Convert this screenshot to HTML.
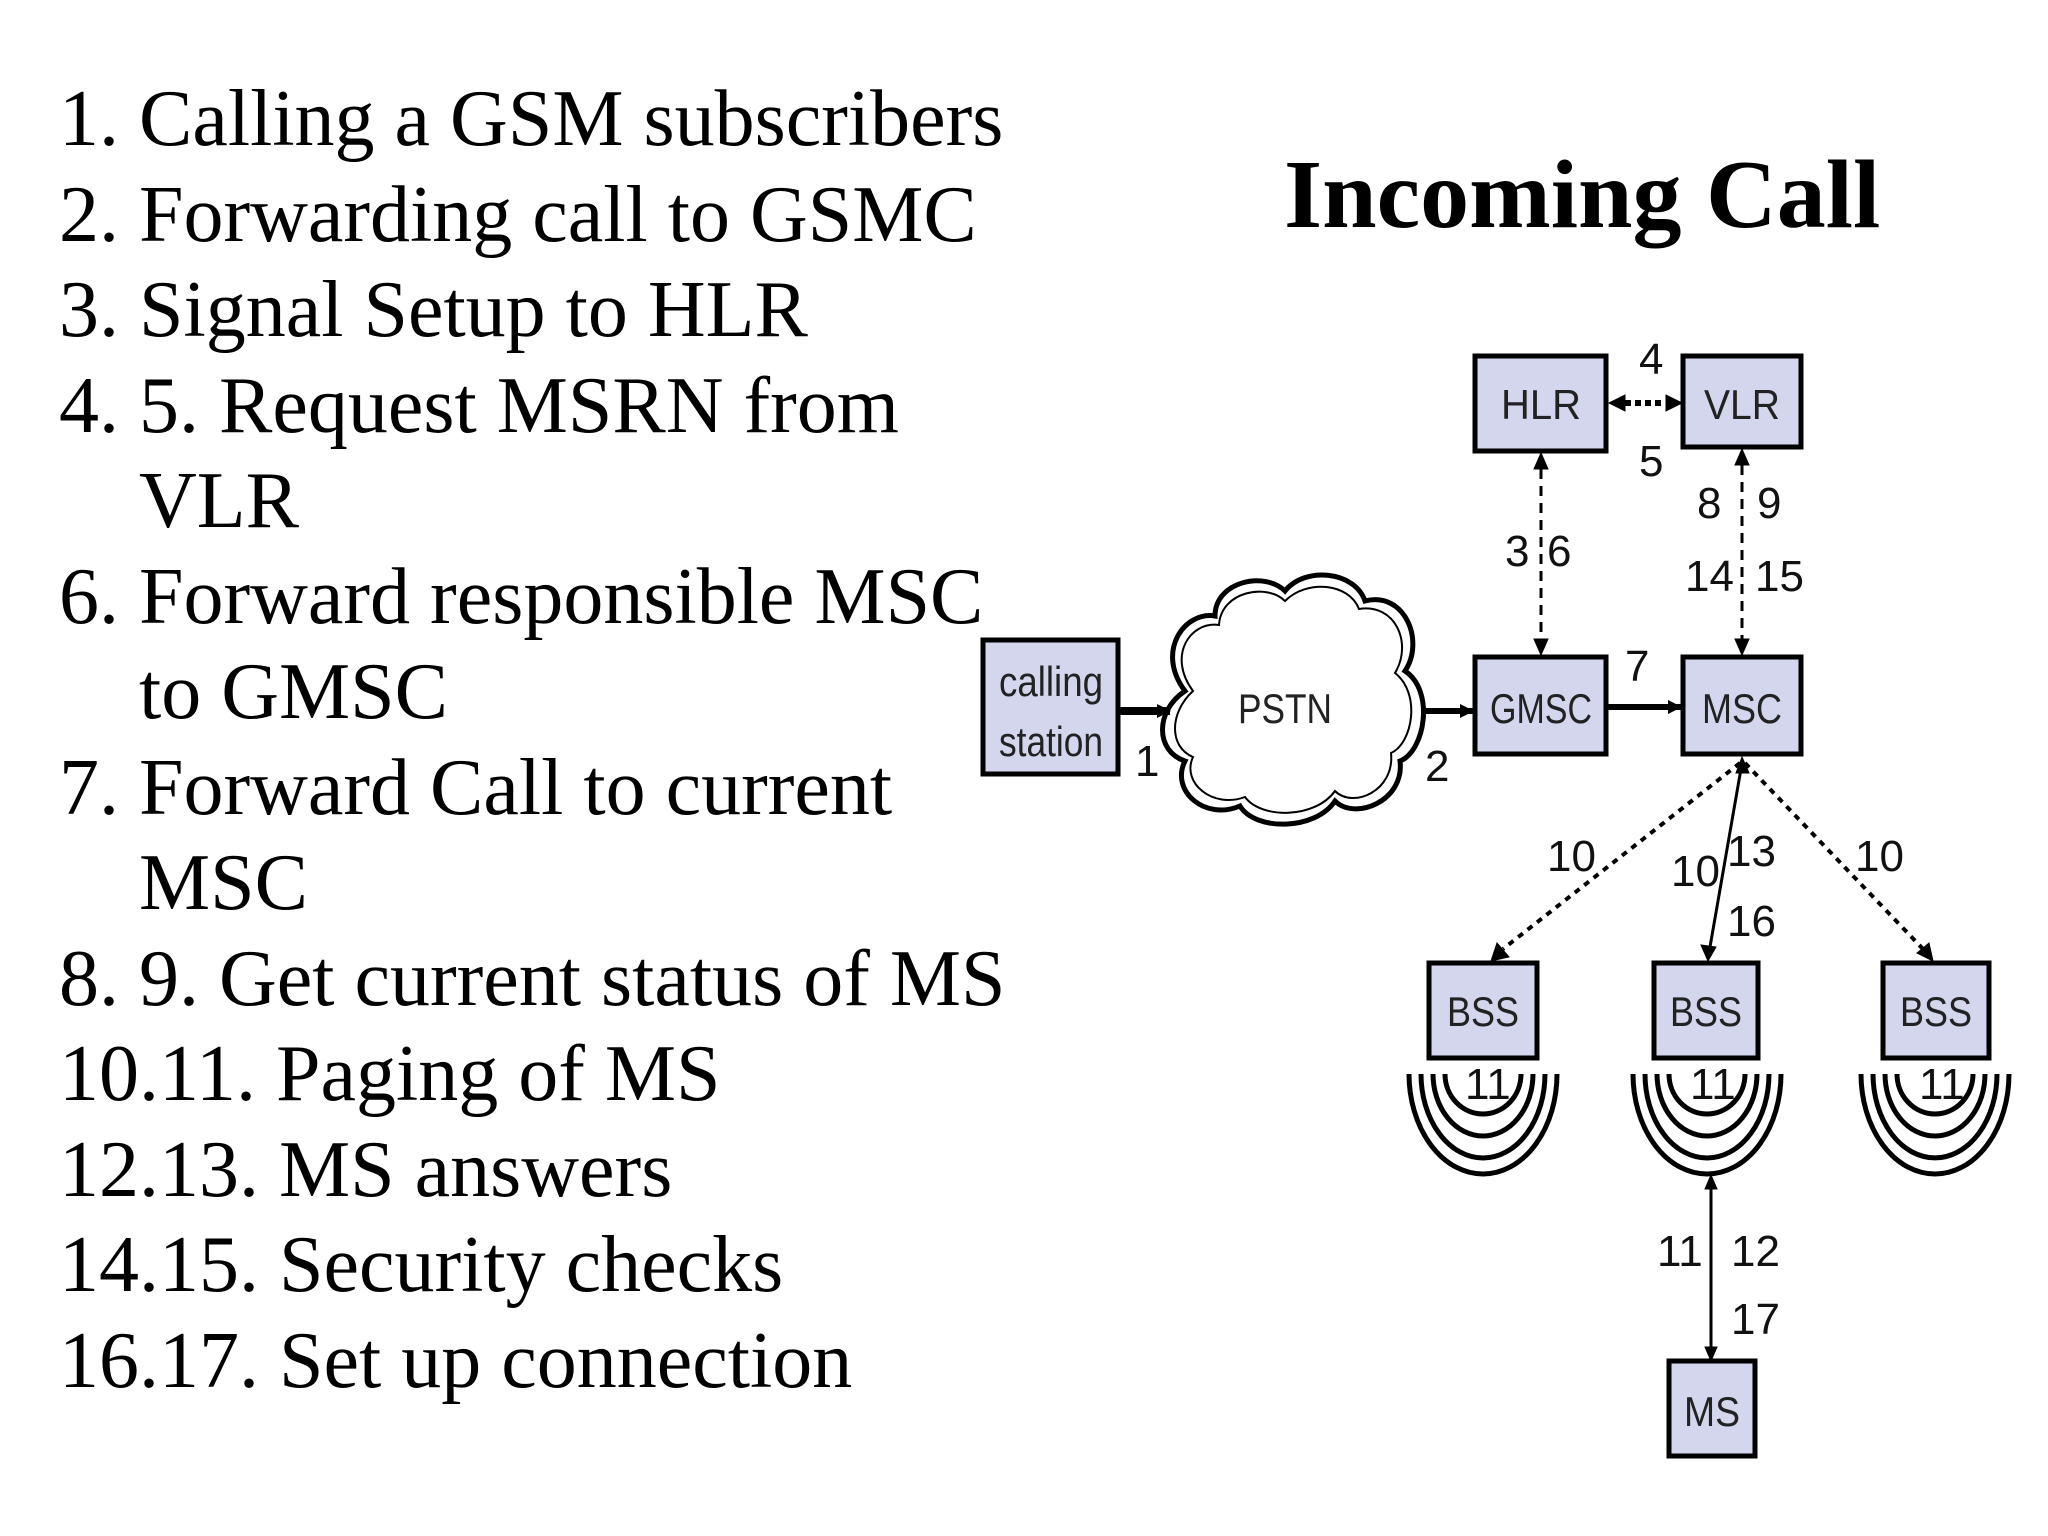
<!DOCTYPE html>
<html><head><meta charset="utf-8"><style>
html,body{margin:0;padding:0;background:#fff}
svg{display:block}
</style></head><body>
<svg width="2048" height="1536" viewBox="0 0 2048 1536" xmlns="http://www.w3.org/2000/svg">
<defs>
<marker id="b" markerWidth="14" markerHeight="14" refX="13" refY="7" orient="auto" markerUnits="userSpaceOnUse"><path d="M0,0 L14,7 L0,14 z" fill="#000"/></marker>
</defs>
<g font-family="Liberation Serif, serif" font-size="80" fill="#000">
<text x="59" y="145">1.</text><text x="139" y="145">Calling a GSM subscribers</text>
<text x="59" y="241">2.</text><text x="139" y="241">Forwarding call to GSMC</text>
<text x="59" y="336">3.</text><text x="139" y="336">Signal Setup to HLR</text>
<text x="59" y="432">4.</text><text x="139" y="432">5. Request MSRN from</text>
<text x="139" y="527">VLR</text>
<text x="59" y="623">6.</text><text x="139" y="623">Forward responsible MSC</text>
<text x="139" y="718">to GMSC</text>
<text x="59" y="814">7.</text><text x="139" y="814">Forward Call to current</text>
<text x="139" y="909">MSC</text>
<text x="59" y="1005">8.</text><text x="139" y="1005">9. Get current status of MS</text>
<text x="59" y="1100">10.11. Paging of MS</text>
<text x="59" y="1196">12.13. MS answers</text>
<text x="59" y="1291">14.15. Security checks</text>
<text x="59" y="1387">16.17. Set up connection</text>
</g>
<text x="1284" y="227" font-family="Liberation Serif, serif" font-weight="bold" font-size="98">Incoming Call</text>
<g transform="translate(-15,-9)">
<path d="M1200,700 C1170,660 1200,620 1230,625 C1230,590 1280,580 1300,600 C1320,575 1370,580 1380,610 C1420,600 1440,650 1420,680 C1450,700 1440,760 1415,770 C1420,810 1370,830 1350,810 C1330,840 1270,840 1255,815 C1220,830 1185,800 1200,770 C1170,760 1170,720 1200,700 Z" fill="#fff" stroke="#000" stroke-width="5"/>
<path d="M1208,700 C1182,665 1205,630 1234,634 C1236,600 1282,592 1300,610 C1322,588 1364,592 1374,618 C1410,612 1428,652 1410,682 C1436,702 1428,752 1406,762 C1410,800 1368,818 1350,800 C1330,828 1276,828 1260,806 C1228,818 1196,792 1208,766 C1184,756 1184,722 1208,700 Z" fill="none" stroke="#000" stroke-width="2"/>
<g fill="#d4d6ee" stroke="#000" stroke-width="5">
<rect x="1490" y="365" width="131" height="95"/>
<rect x="1698" y="365" width="118" height="91"/>
<rect x="998" y="649" width="135" height="134"/>
<rect x="1490" y="666" width="131" height="97"/>
<rect x="1698" y="666" width="118" height="97"/>
<rect x="1444" y="972" width="108" height="95"/>
<rect x="1669" y="972" width="104" height="95"/>
<rect x="1898" y="972" width="106" height="95"/>
<rect x="1684" y="1370" width="86" height="95"/>
</g>
<g font-family="Liberation Sans, sans-serif" font-size="42" fill="#222" text-anchor="middle">
<text x="1556" y="428" textLength="80" lengthAdjust="spacingAndGlyphs">HLR</text>
<text x="1757" y="428" textLength="76" lengthAdjust="spacingAndGlyphs">VLR</text>
<text x="1066" y="705" textLength="104" lengthAdjust="spacingAndGlyphs">calling</text>
<text x="1066" y="765" textLength="104" lengthAdjust="spacingAndGlyphs">station</text>
<text x="1556" y="732" textLength="102" lengthAdjust="spacingAndGlyphs">GMSC</text>
<text x="1757" y="732" textLength="80" lengthAdjust="spacingAndGlyphs">MSC</text>
<text x="1498" y="1035" textLength="72" lengthAdjust="spacingAndGlyphs">BSS</text>
<text x="1721" y="1035" textLength="72" lengthAdjust="spacingAndGlyphs">BSS</text>
<text x="1951" y="1035" textLength="72" lengthAdjust="spacingAndGlyphs">BSS</text>
<text x="1727" y="1435" textLength="56" lengthAdjust="spacingAndGlyphs">MS</text>
<text x="1300" y="732" textLength="94" lengthAdjust="spacingAndGlyphs">PSTN</text>
</g>
<g stroke="#000" fill="none">
<line x1="1135" y1="720" x2="1185" y2="720" stroke-width="8" marker-end="url(#b)"/>
<line x1="1440" y1="720" x2="1488" y2="720" stroke-width="6" marker-end="url(#b)"/>
<line x1="1623" y1="716" x2="1696" y2="716" stroke-width="6" marker-end="url(#b)"/>
<line x1="1640" y1="412" x2="1680" y2="412" stroke-width="6" stroke-dasharray="6,4"/>
<path d="M1624,412 L1640,404 L1640,420 z" fill="#000"/>
<path d="M1697,412 L1681,404 L1681,420 z" fill="#000"/>
<line x1="1556" y1="478" x2="1556" y2="650" stroke-width="3" stroke-dasharray="10,7"/>
<path d="M1556,462 L1549,478 L1563,478 z" fill="#000"/>
<path d="M1556,664 L1549,648 L1563,648 z" fill="#000"/>
<line x1="1757" y1="474" x2="1757" y2="650" stroke-width="3" stroke-dasharray="10,7"/>
<path d="M1757,458 L1750,474 L1764,474 z" fill="#000"/>
<path d="M1757,664 L1750,648 L1764,648 z" fill="#000"/>
<line x1="1755" y1="772" x2="1518" y2="958" stroke-width="4" stroke-dasharray="6,6"/>
<path d="M1506,970 L1512,952 L1524,966 z" fill="#000"/>
<line x1="1757" y1="772" x2="1725" y2="956" stroke-width="3"/>
<path d="M1723,970 L1716,954 L1731,956 z" fill="#000"/>
<path d="M1757,766 L1751,782 L1764,782 z" fill="#000"/>
<line x1="1760" y1="772" x2="1938" y2="958" stroke-width="4" stroke-dasharray="6,6"/>
<path d="M1948,970 L1932,962 L1944,952 z" fill="#000"/>
<line x1="1726" y1="1196" x2="1726" y2="1356" stroke-width="3"/>
<path d="M1726,1184 L1720,1198 L1732,1198 z" fill="#000"/>
<path d="M1726,1370 L1720,1356 L1732,1356 z" fill="#000"/>
</g>
<g stroke="#000" stroke-width="5" fill="none">
<path d="M1460,1083 A38,40 0 0 0 1536,1083"/><path d="M1448,1083 A50,62 0 0 0 1548,1083"/><path d="M1436,1083 A62,84 0 0 0 1560,1083"/><path d="M1424,1083 A74,100 0 0 0 1572,1083"/>
<path d="M1684,1083 A38,40 0 0 0 1760,1083"/><path d="M1672,1083 A50,62 0 0 0 1772,1083"/><path d="M1660,1083 A62,84 0 0 0 1784,1083"/><path d="M1648,1083 A74,100 0 0 0 1796,1083"/>
<path d="M1912,1083 A38,40 0 0 0 1988,1083"/><path d="M1900,1083 A50,62 0 0 0 2000,1083"/><path d="M1888,1083 A62,84 0 0 0 2012,1083"/><path d="M1876,1083 A74,100 0 0 0 2024,1083"/>
</g>
<g font-family="Liberation Sans, sans-serif" font-size="44" fill="#111">
<text x="1150" y="785">1</text>
<text x="1440" y="790">2</text>
<text x="1640" y="690">7</text>
<text x="1654" y="383">4</text>
<text x="1654" y="485">5</text>
<text x="1520" y="575">3</text><text x="1562" y="575">6</text>
<text x="1712" y="527">8</text><text x="1772" y="527">9</text>
<text x="1700" y="600">14</text><text x="1770" y="600">15</text>
<text x="1562" y="880">10</text>
<text x="1686" y="895">10</text><text x="1742" y="875">13</text><text x="1742" y="945">16</text>
<text x="1870" y="880">10</text>
<text x="1480" y="1108">11</text><text x="1705" y="1108">11</text><text x="1934" y="1108">11</text>
<text x="1672" y="1275">11</text><text x="1746" y="1275">12</text><text x="1746" y="1343">17</text>
</g>
</g>
</svg>
</body></html>
